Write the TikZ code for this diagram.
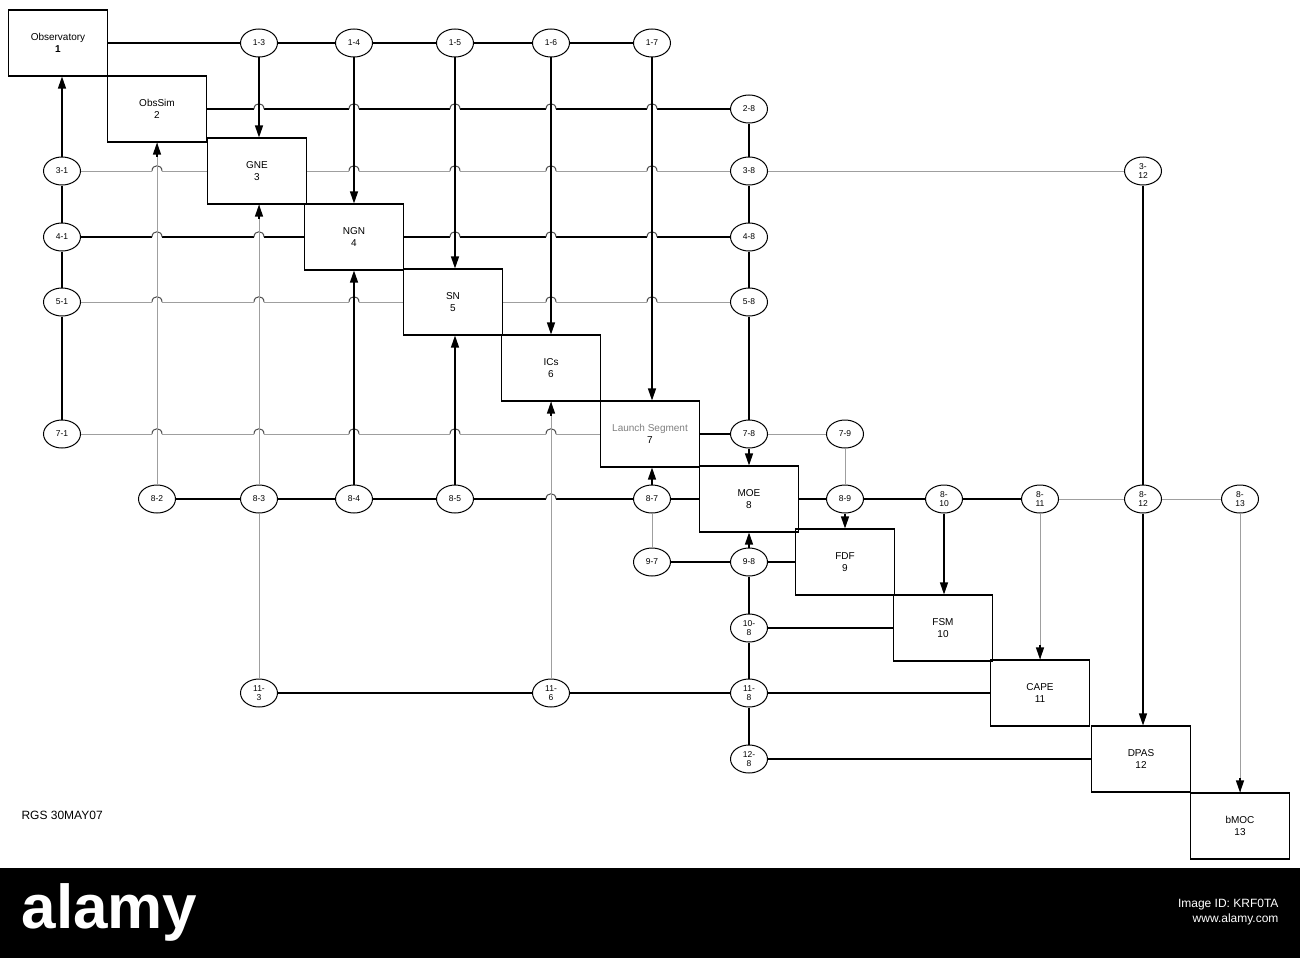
\documentclass[tikz,border=0pt]{standalone}
\usepackage{fontspec}
\setmainfont{Liberation Sans}
\usetikzlibrary{shapes.geometric,arrows.meta}
\begin{document}
\begin{tikzpicture}[x=1pt,y=-1pt,
  boxn/.style={draw,line width=1.1pt,minimum width=99pt,minimum height=66pt,inner sep=0pt,align=center,font=\fontsize{10}{11.5}\selectfont},
  ell/.style={draw,ellipse,line width=1pt,minimum width=37pt,minimum height=28pt,inner sep=0pt,align=center,fill=white,font=\fontsize{8.5}{9}\selectfont},
  ln/.style={line width=1.2pt},
  gl/.style={line width=1pt,draw=gray!75},
  arr/.style={line width=1.2pt,-{Triangle[length=12pt,width=8pt]}}]
\useasboundingbox (0,0) rectangle (1300,958);
\fill[white] (0,0) rectangle (1300,868);
% boxes
\node[boxn] (b1) at (58,43) {Observatory\\\textbf{1}};
\node[boxn] (b2) at (157,109) {ObsSim\\2};
\node[boxn] (b3) at (257,171) {GNE\\3};
\node[boxn] (b4) at (354,237) {NGN\\4};
\node[boxn] (b5) at (453,302) {SN\\5};
\node[boxn] (b6) at (551,368) {ICs\\6};
\node[boxn] (b7) at (650,434) {\textcolor{gray}{Launch Segment}\\7};
\node[boxn] (b8) at (749,499) {MOE\\8};
\node[boxn] (b9) at (845,562) {FDF\\9};
\node[boxn] (b10) at (943,628) {FSM\\10};
\node[boxn] (b11) at (1040,693) {CAPE\\11};
\node[boxn] (b12) at (1141,759) {DPAS\\12};
\node[boxn] (b13) at (1240,826) {bMOC\\13};
% ellipses
\node[ell] (e13) at (259,43) {1-3};
\node[ell] (e14) at (354,43) {1-4};
\node[ell] (e15) at (455,43) {1-5};
\node[ell] (e16) at (551,43) {1-6};
\node[ell] (e17) at (652,43) {1-7};
\node[ell] (e28) at (749,109) {2-8};
\node[ell] (e31) at (62,171) {3-1};
\node[ell] (e38) at (749,171) {3-8};
\node[ell] (e312) at (1143,171) {3-\\12};
\node[ell] (e41) at (62,237) {4-1};
\node[ell] (e48) at (749,237) {4-8};
\node[ell] (e51) at (62,302) {5-1};
\node[ell] (e58) at (749,302) {5-8};
\node[ell] (e71) at (62,434) {7-1};
\node[ell] (e78) at (749,434) {7-8};
\node[ell] (e79) at (845,434) {7-9};
\node[ell] (e82) at (157,499) {8-2};
\node[ell] (e83) at (259,499) {8-3};
\node[ell] (e84) at (354,499) {8-4};
\node[ell] (e85) at (455,499) {8-5};
\node[ell] (e87) at (652,499) {8-7};
\node[ell] (e89) at (845,499) {8-9};
\node[ell] (e810) at (944,499) {8-\\10};
\node[ell] (e811) at (1040,499) {8-\\11};
\node[ell] (e812) at (1143,499) {8-\\12};
\node[ell] (e813) at (1240,499) {8-\\13};
\node[ell] (e97) at (652,562) {9-7};
\node[ell] (e98) at (749,562) {9-8};
\node[ell] (e108) at (749,628) {10-\\8};
\node[ell] (e113) at (259,693) {11-\\3};
\node[ell] (e116) at (551,693) {11-\\6};
\node[ell] (e118) at (749,693) {11-\\8};
\node[ell] (e128) at (749,759) {12-\\8};
% horizontals
\draw[ln] (b1) -- (e13) -- (e14) -- (e15) -- (e16) -- (e17);
\draw[ln] (b2) -- (e28);
\draw[gl] (e31) -- (b3);
\draw[gl] (b3) -- (e38) -- (e312);
\draw[ln] (e41) -- (b4);
\draw[ln] (b4) -- (e48);
\draw[gl] (e51) -- (b5);
\draw[gl] (b5) -- (e58);
\draw[gl] (e71) -- (b7);
\draw[ln] (b7) -- (e78);
\draw[gl] (e78) -- (e79);
\draw[ln] (e82) -- (e83) -- (e84) -- (e85) -- (e87) -- (b8);
\draw[ln] (b8) -- (e89) -- (e810) -- (e811);
\draw[gl] (e811) -- (e812) -- (e813);
\draw[ln] (e97) -- (e98) -- (b9);
\draw[ln] (e108) -- (b10);
\draw[ln] (e113) -- (e116) -- (e118) -- (b11);
\draw[ln] (e128) -- (b12);
% hops
\foreach \yy/\xs in {109/{259,354,455,551,652},171/{157,354,455,551,652},237/{157,259,455,551,652},302/{157,259,354,551,652},434/{157,259,354,455,551},499/{551}}{
  \foreach \xx in \xs {
    \draw[white,line width=3pt] (\xx-5,\yy) -- (\xx+5,\yy);
    \draw[line width=1pt,gray!60!black] (\xx-5,\yy) .. controls (\xx-5,\yy-7) and (\xx+5,\yy-7) .. (\xx+5,\yy);
  }
}
% verticals
\draw[arr] (e13) -- (e13 |- b3.north);
\draw[arr] (e14) -- (e14 |- b4.north);
\draw[arr] (e15) -- (e15 |- b5.north);
\draw[arr] (e16) -- (e16 |- b6.north);
\draw[arr] (e17) -- (e17 |- b7.north);
\draw[ln] (e28) -- (e38) -- (e48) -- (e58) -- (e78);
\draw[arr] (e78) -- (e78 |- b8.north);
\draw[arr] (e31) -- (e31 |- b1.south);
\draw[ln] (e31) -- (e41) -- (e51) -- (e71);
\draw[gl] (e82) -- (e82 |- b2.south);
\draw[arr] ([yshift=-14pt]e82 |- b2.south) -- (e82 |- b2.south);
\draw[gl] (e83) -- (e83 |- b3.south);
\draw[arr] ([yshift=-14pt]e83 |- b3.south) -- (e83 |- b3.south);
\draw[gl] (e83) -- (e113);
\draw[arr] (e84) -- (e84 |- b4.south);
\draw[arr] (e85) -- (e85 |- b5.south);
\draw[arr] (e87) -- (e87 |- b7.south);
\draw[gl] (e87) -- (e97);
\draw[arr] (e98) -- (e98 |- b8.south);
\draw[ln] (e98) -- (e108) -- (e118) -- (e128);
\draw[gl] (e116) -- (e116 |- b6.south);
\draw[arr] ([yshift=-14pt]e116 |- b6.south) -- (e116 |- b6.south);
\draw[gl] (e79) -- (e89);
\draw[arr] (e89) -- (e89 |- b9.north);
\draw[arr] (e810) -- (e810 |- b10.north);
\draw[gl] (e811) -- (e811 |- b11.north);
\draw[arr] ([yshift=14pt]e811 |- b11.north) -- (e811 |- b11.north);
\draw[ln] (e312) -- (e812);
\draw[arr] (e812) -- (e812 |- b12.north);
\draw[gl] (e813) -- (e813 |- b13.north);
\draw[arr] ([yshift=14pt]e813 |- b13.north) -- (e813 |- b13.north);
% label
\node[anchor=west,font=\fontsize{12}{13}\selectfont] (rgs) at (18,815) {RGS 30MAY07};
% band
\fill[black] (0,868) rectangle (1300,958);
\node[anchor=west,text=white,font=\fontsize{62}{62}\selectfont\bfseries] (alamy) at (18,912) {alamy};
\node[anchor=east,text=white,align=right,font=\fontsize{12}{15}\selectfont] (imgid) at (1282,912) {Image ID: KRF0TA\\www.alamy.com};
\end{tikzpicture}
\end{document}
